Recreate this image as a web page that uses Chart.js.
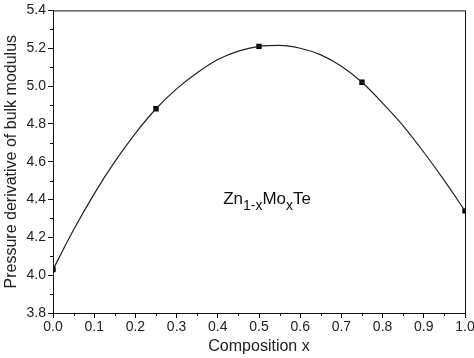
<!DOCTYPE html>
<html>
<head>
<meta charset="utf-8">
<script src="https://cdn.jsdelivr.net/npm/chart.js@4/dist/chart.umd.min.js"></script>
<style>
  html, body { margin: 0; padding: 0; background: #fff; }
</style>
</head>
<body>
<canvas id="bulkChart" width="474" height="358"></canvas>
<script>
// computed points
const compX = [0, 0.25, 0.5, 0.75, 1.0];
const compY = [4.03, 4.88, 5.21, 5.02, 4.34];

// fitted curve
const curveX = [0, 0.05, 0.1, 0.15, 0.2, 0.25, 0.3, 0.35, 0.4, 0.45, 0.5,
                0.55, 0.6, 0.65, 0.7, 0.75, 0.8, 0.85, 0.9, 0.95, 1.0];
const curveY = [4.03, 4.24, 4.43, 4.60, 4.75, 4.88, 4.985, 5.07, 5.14, 5.185, 5.21,
                5.215, 5.20, 5.165, 5.105, 5.02, 4.91, 4.79, 4.65, 4.50, 4.34];

const xTicks = [0, 0.1, 0.2, 0.3, 0.4, 0.5, 0.6, 0.7, 0.8, 0.9, 1.0];
const yTicks = [3.8, 4.0, 4.2, 4.4, 4.6, 4.8, 5.0, 5.2, 5.4];

const fontFamily = '"Liberation Sans", Arial, sans-serif';

const frame = {
  id: 'frame',
  afterDraw(chart) {
    const ctx = chart.ctx;
    const a = chart.chartArea;
    const xs = chart.scales.x, ys = chart.scales.y;
    ctx.save();
    ctx.strokeStyle = '#111';
    ctx.lineWidth = 1;
    ctx.strokeRect(a.left + 0.5, a.top + 0.5, a.right - a.left, a.bottom - a.top);
    // minor ticks
    ctx.beginPath();
    for (let i = 0; i < xTicks.length - 1; i++) {
      const px = Math.round(xs.getPixelForValue((xTicks[i] + xTicks[i + 1]) / 2)) + 0.5;
      ctx.moveTo(px, a.bottom);
      ctx.lineTo(px, a.bottom + 3);
    }
    for (let i = 0; i < yTicks.length - 1; i++) {
      const py = Math.round(ys.getPixelForValue((yTicks[i] + yTicks[i + 1]) / 2)) + 0.5;
      ctx.moveTo(a.left, py);
      ctx.lineTo(a.left - 3, py);
    }
    ctx.stroke();

    // label Zn1-xMoxTe
    let x = xs.getPixelForValue(0.413);
    const y = ys.getPixelForValue(4.377);
    ctx.fillStyle = '#111';
    ctx.textBaseline = 'alphabetic';
    const parts = [['Zn', 17, 0], ['1-x', 14, 6], ['Mo', 17, 0], ['x', 14, 6], ['Te', 17, 0]];
    parts.forEach(([t, size, dy]) => {
      ctx.font = size + 'px ' + fontFamily;
      ctx.fillText(t, x, y + dy);
      x += ctx.measureText(t).width;
    });
    ctx.restore();
  }
};

new Chart(document.getElementById('bulkChart'), {
  type: 'scatter',
  data: {
    datasets: [{
      data: curveX.map((v, i) => ({ x: v, y: curveY[i] })),
      showLine: true,
      borderColor: '#222',
      borderWidth: 1.2,
      pointRadius: 0,
      tension: 0.4,
      cubicInterpolationMode: 'monotone'
    }, {
      data: compX.map((v, i) => ({ x: v, y: compY[i] })),
      showLine: false,
      pointStyle: 'rect',
      pointRadius: 3.8,
      backgroundColor: '#000',
      borderColor: '#000',
      borderWidth: 0
    }]
  },
  options: {
    responsive: false,
    animation: false,
    layout: { padding: { top: 8, right: 9, left: 2, bottom: 0 } },
    plugins: {
      legend: { display: false },
      tooltip: { enabled: false }
    },
    scales: {
      x: {
        type: 'linear',
        min: 0,
        max: 1,
        afterBuildTicks: s => { s.ticks = xTicks.map(v => ({ value: v })); },
        afterFit: s => { s.height = 45; s.paddingRight = 0; },
        ticks: {
          autoSkip: false,
          maxRotation: 0,
          padding: 1,
          color: '#222',
          font: { family: fontFamily, size: 14 },
          callback: v => v.toFixed(1)
        },
        grid: { drawOnChartArea: false, tickLength: 5, color: '#111' },
        border: { color: '#111' },
        title: {
          display: true,
          text: 'Composition x',
          color: '#222',
          font: { family: fontFamily, size: 16 },
          padding: { top: 0, bottom: 2 }
        }
      },
      y: {
        min: 3.8,
        max: 5.4,
        afterBuildTicks: s => { s.ticks = yTicks.map(v => ({ value: v })); },
        afterFit: s => { s.width = 51; },
        ticks: {
          autoSkip: false,
          padding: 2,
          color: '#222',
          font: { family: fontFamily, size: 14 },
          callback: v => v.toFixed(1)
        },
        grid: { drawOnChartArea: false, tickLength: 5, color: '#111' },
        border: { color: '#111' },
        title: {
          display: true,
          text: 'Pressure derivative of bulk modulus',
          color: '#222',
          font: { family: fontFamily, size: 16 },
          padding: { top: 0, bottom: 0 }
        }
      }
    }
  },
  plugins: [frame]
});
</script>
</body>
</html>
